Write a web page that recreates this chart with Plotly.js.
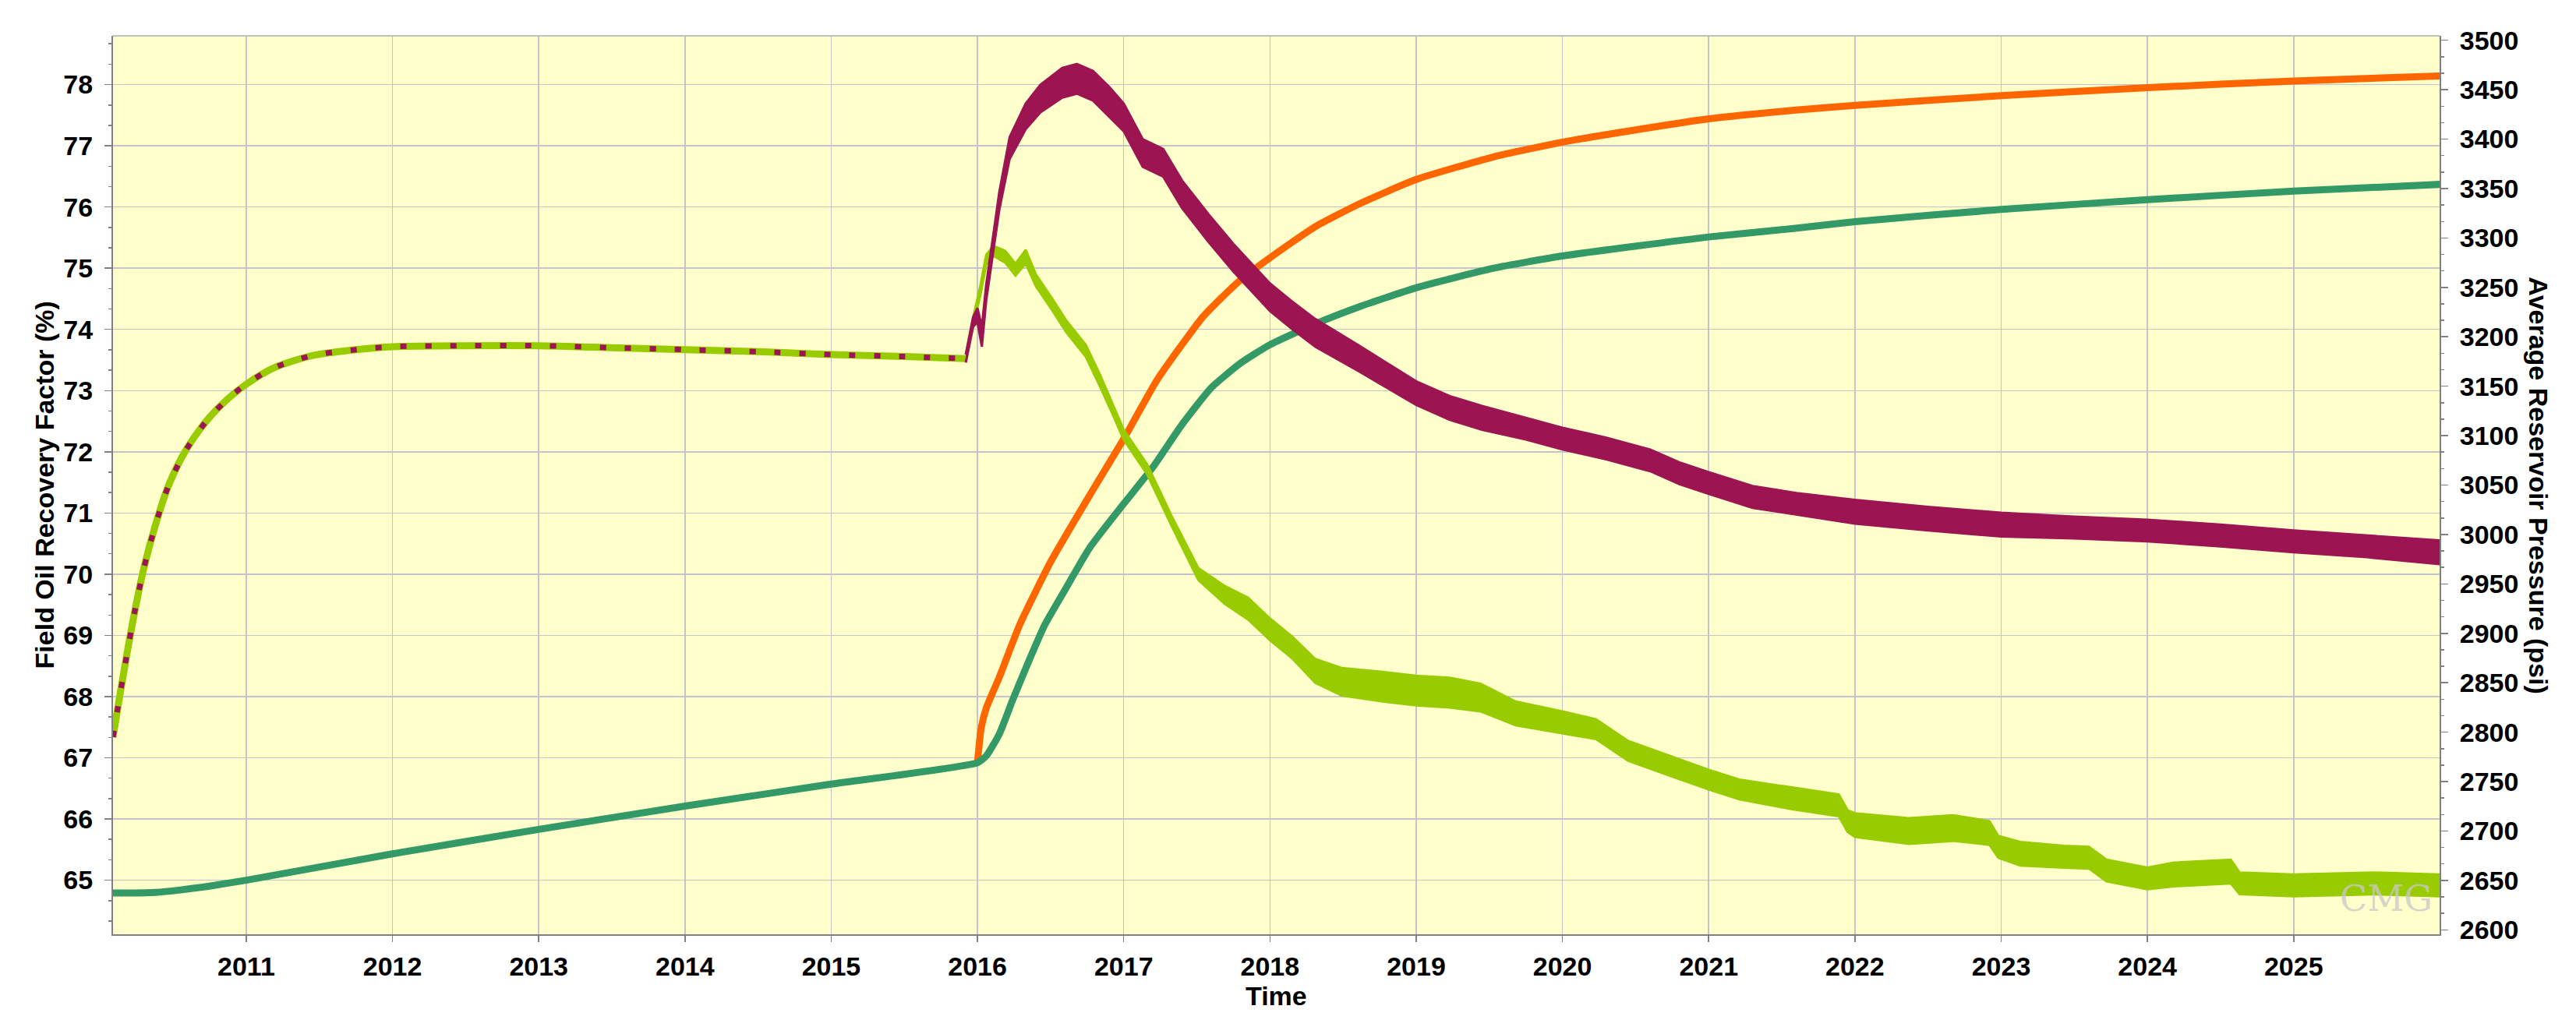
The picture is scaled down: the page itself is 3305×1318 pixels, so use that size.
<!DOCTYPE html>
<html>
<head>
<meta charset="utf-8">
<script src="https://cdn.plot.ly/plotly-3.0.1.min.js"></script>
<style>html,body{margin:0;padding:0;background:#fff;}#chart{width:3305px;height:1318px;}</style>
</head>
<body>
<div id="chart"></div>
<script>
// ---- Data ----
// x in decimal years
const yearTicks = [2011, 2012, 2013, 2014, 2015, 2016, 2017, 2018, 2019, 2020, 2021, 2022, 2023, 2024, 2025];

// Field Oil Recovery Factor (%) - green case (history + forecast)
const greenTime = [2010.089, 2010.2, 2010.38, 2010.55, 2010.74, 2011.0, 2012.0, 2013.0, 2014.0, 2015.0, 2016.0,
  2016.06, 2016.15, 2016.24, 2016.36, 2016.46, 2016.6, 2016.77, 2017.0, 2017.2, 2017.4, 2017.6, 2017.8, 2018.0,
  2018.31, 2018.61, 2019.0, 2019.53, 2020.0, 2021.0, 2021.58, 2022.0, 2023.0, 2024.0, 2025.0, 2026.0];
const greenRF = [64.79, 64.79, 64.80, 64.84, 64.90, 65.00, 65.43, 65.83, 66.21, 66.57, 66.92,
  67.03, 67.39, 67.94, 68.63, 69.17, 69.75, 70.44, 71.15, 71.75, 72.45, 73.05, 73.45, 73.75,
  74.09, 74.37, 74.68, 75.00, 75.20, 75.51, 75.65, 75.76, 75.96, 76.12, 76.26, 76.37];

// Field Oil Recovery Factor (%) - orange case (forecast)
const orangeTime = [2016.0, 2016.025, 2016.06, 2016.15, 2016.29, 2016.5, 2016.77, 2017.0, 2017.23, 2017.54, 2017.78,
  2018.0, 2018.31, 2018.61, 2019.0, 2019.53, 2020.0, 2020.45, 2021.0, 2021.58, 2022.0, 2023.0, 2024.0, 2025.0, 2026.0];
const orangeRF = [66.92, 67.48, 67.81, 68.32, 69.18, 70.20, 71.30, 72.21, 73.18, 74.20, 74.77,
  75.17, 75.68, 76.05, 76.45, 76.82, 77.06, 77.24, 77.44, 77.58, 77.66, 77.82, 77.95, 78.06, 78.14];

// Average Reservoir Pressure (psi) - shared history
const histTime = [2010.089, 2010.13, 2010.19, 2010.24, 2010.30, 2010.38, 2010.47, 2010.59, 2010.74, 2010.88, 2011.0,
  2011.18, 2011.45, 2011.75, 2012.0, 2012.5, 2013.0, 2013.5, 2014.0, 2014.5, 2015.0, 2015.5, 2015.92];
const histP = [2795, 2832, 2884, 2924, 2966, 3010, 3050, 3086, 3117, 3138, 3152,
  3168, 3181, 3187, 3190, 3191, 3191, 3189, 3187, 3185, 3182, 3180, 3178];

// Average Reservoir Pressure (psi) - purple case forecast (centre and half band width of the noisy trace)
const purpleTime = [2015.92, 2015.97, 2016.0, 2016.03, 2016.06, 2016.10, 2016.15, 2016.22, 2016.33, 2016.43,
  2016.58, 2016.68, 2016.79, 2016.90, 2017.0, 2017.13, 2017.27, 2017.40, 2017.58, 2017.75,
  2018.0, 2018.15, 2018.31, 2018.61, 2019.0, 2019.23, 2019.45, 2019.75, 2020.0, 2020.3,
  2020.6, 2020.8, 2021.0, 2021.3, 2021.6, 2022.0, 2022.5, 2023.0, 2023.5, 2024.0,
  2024.5, 2025.0, 2025.5, 2026.0];
const purpleP = [3178, 3215, 3222, 3200, 3245, 3286, 3338, 3391, 3423, 3441,
  3457, 3461, 3454, 3438, 3422, 3386, 3376, 3344, 3310, 3280,
  3240, 3222, 3204, 3178, 3143, 3128, 3118, 3107, 3097, 3087,
  3075, 3062, 3052, 3038, 3031, 3023, 3016, 3010, 3007, 3004,
  2999, 2993, 2988, 2982];
const purpleSpread = [4, 5, 7, 10, 8, 8, 9, 11, 13, 14,
  15, 15, 15, 15, 14, 14, 14, 14, 14, 14,
  14, 14, 14, 13, 12, 12, 12, 11, 11, 11,
  11, 11, 11, 11, 11, 12, 12, 12, 11, 11,
  11, 11, 11, 12];

// Average Reservoir Pressure (psi) - lime case forecast
const limeTime = [2015.92, 2015.97, 2016.02, 2016.06, 2016.11, 2016.19, 2016.26, 2016.33, 2016.40, 2016.51,
  2016.61, 2016.74, 2016.84, 2016.92, 2017.0, 2017.16, 2017.33, 2017.51, 2017.69, 2017.85,
  2018.0, 2018.15, 2018.31, 2018.49, 2018.77, 2019.0, 2019.23, 2019.44, 2019.68, 2020.0,
  2020.23, 2020.45, 2020.75, 2021.0, 2021.21, 2021.57, 2021.89, 2021.95, 2022.0, 2022.37,
  2022.67, 2022.92, 2022.98, 2023.13, 2023.43, 2023.6, 2023.72, 2024.0, 2024.18, 2024.57,
  2024.63, 2025.0, 2025.54, 2026.0];
const limeP = [3178, 3215, 3247, 3278, 3287, 3281, 3268, 3281, 3257, 3233,
  3210, 3186, 3155, 3128, 3101, 3066, 3013, 2960, 2939, 2925,
  2904, 2886, 2862, 2851, 2846, 2842, 2840, 2835, 2819, 2810,
  2803, 2781, 2765, 2752, 2742, 2733, 2726, 2710, 2706, 2700,
  2703, 2698, 2684, 2677, 2674, 2673, 2660, 2652, 2656, 2659,
  2647, 2645, 2647, 2645];
const limeSpread = [4, 4, 5, 5, 5, 6, 6, 7, 6, 6,
  6, 6, 6, 5, 5, 5, 5, 6, 9, 11,
  11, 11, 12, 14, 15, 15, 15, 14, 12, 11,
  10, 10, 10, 10, 10, 11, 11, 11, 12, 13,
  13, 12, 11, 12, 11, 11, 11, 11, 12, 12,
  11, 11, 11, 11];

// ---- Build ----
function band(t, p, s) {
  const up = p.map((v, i) => v + s[i]);
  const lo = p.map((v, i) => v - s[i]);
  return { x: t.concat(t.slice().reverse()), y: up.concat(lo.slice().reverse()) };
}
const COL_ORANGE = '#ff6600', COL_GREEN = '#339966', COL_PURPLE = '#9c1452', COL_LIME = '#99cc00';

const pb = band(purpleTime, purpleP, purpleSpread);
const lb = band(limeTime, limeP, limeSpread);

const traces = [
  { x: orangeTime, y: orangeRF, type: 'scatter', mode: 'lines', yaxis: 'y', line: { color: COL_ORANGE, width: 9, shape: 'spline', smoothing: 0.5 }, hoverinfo: 'skip' },
  { x: greenTime, y: greenRF, type: 'scatter', mode: 'lines', yaxis: 'y', line: { color: COL_GREEN, width: 9, shape: 'spline', smoothing: 0.5 }, hoverinfo: 'skip' },
  { x: histTime, y: histP, type: 'scatter', mode: 'lines', yaxis: 'y2', line: { color: COL_LIME, width: 9, shape: 'spline', smoothing: 0.8 }, hoverinfo: 'skip' },
  { x: lb.x, y: lb.y, type: 'scatter', mode: 'lines', yaxis: 'y2', fill: 'toself', fillcolor: COL_LIME, line: { color: COL_LIME, width: 3 }, hoverinfo: 'skip' },
  { x: histTime, y: histP, type: 'scatter', mode: 'lines', yaxis: 'y2', line: { color: COL_PURPLE, width: 7, dash: '8px,24px', shape: 'spline', smoothing: 0.8 }, hoverinfo: 'skip' },
  { x: pb.x, y: pb.y, type: 'scatter', mode: 'lines', yaxis: 'y2', fill: 'toself', fillcolor: COL_PURPLE, line: { color: COL_PURPLE, width: 3 }, hoverinfo: 'skip' }
];

const tickFont = { family: 'Liberation Sans, Arial, sans-serif', size: 34, color: '#000', weight: 'bold' };
const titleFont = { family: 'Liberation Sans, Arial, sans-serif', size: 34, color: '#000', weight: 'bold' };

const layout = {
  width: 3305, height: 1318,
  margin: { l: 145, r: 175, t: 46, b: 119, pad: 0 },
  paper_bgcolor: '#ffffff',
  plot_bgcolor: '#ffffcc',
  showlegend: false,
  xaxis: {
    range: [2010.089, 2025.998],
    tickvals: yearTicks,
    ticktext: yearTicks.map(String),
    showgrid: true, gridcolor: '#c4c4cc', gridwidth: 1.5,
    zeroline: false,
    showline: true, linecolor: '#808080', linewidth: 2,
    ticks: 'outside', ticklen: 8, tickwidth: 1.5, tickcolor: '#808080',
    tickfont: tickFont, ticklabelstandoff: 2
  },
  yaxis: {
    range: [64.116, 78.797],
    dtick: 1, tick0: 0,
    showgrid: true, gridcolor: '#c4c4cc', gridwidth: 1.5,
    zeroline: false,
    showline: true, linecolor: '#808080', linewidth: 2,
    ticks: 'outside', ticklen: 9, tickwidth: 1.5, tickcolor: '#808080',
    minor: { dtick: 1 / 3, ticks: 'outside', ticklen: 4, tickwidth: 1.5, tickcolor: '#808080', showgrid: false },
    tickfont: tickFont, ticklabelstandoff: 8
  },
  yaxis2: {
    overlaying: 'y', side: 'right',
    range: [2595.5, 3504.5],
    dtick: 50, tick0: 0,
    showgrid: false, zeroline: false,
    showline: true, linecolor: '#808080', linewidth: 2,
    ticks: 'outside', ticklen: 9, tickwidth: 1.5, tickcolor: '#808080',
    minor: { dtick: 50 / 3, ticks: 'outside', ticklen: 4, tickwidth: 1.5, tickcolor: '#808080', showgrid: false },
    tickfont: tickFont, ticklabelstandoff: 8
  },
  shapes: [
    { type: 'line', xref: 'paper', yref: 'paper', x0: 0, x1: 1, y0: 1, y1: 1, line: { color: '#c0c0c0', width: 2 } }
  ],
  annotations: [
    { text: 'Field Oil Recovery Factor (%)', xref: 'paper', yref: 'paper', x: -0.0295, y: 0.5, xanchor: 'center', yanchor: 'middle', textangle: -90, showarrow: false, font: titleFont },
    { text: 'Average Reservoir Pressure (psi)', xref: 'paper', yref: 'paper', x: 1.0426, y: 0.5, xanchor: 'center', yanchor: 'middle', textangle: 90, showarrow: false, font: titleFont },
    { text: 'Time', xref: 'paper', yref: 'paper', x: 0.5, y: -0.0685, xanchor: 'center', yanchor: 'middle', showarrow: false, font: titleFont },
    { text: 'CMG', xref: 'paper', yref: 'paper', x: 0.977, y: 0.04, xanchor: 'center', yanchor: 'middle', showarrow: false, font: { family: 'DejaVu Serif, serif', size: 46, color: 'rgba(200,200,200,0.75)' } }
  ]
};

Plotly.newPlot('chart', traces, layout, { displayModeBar: false, staticPlot: true });
</script>
</body>
</html>
